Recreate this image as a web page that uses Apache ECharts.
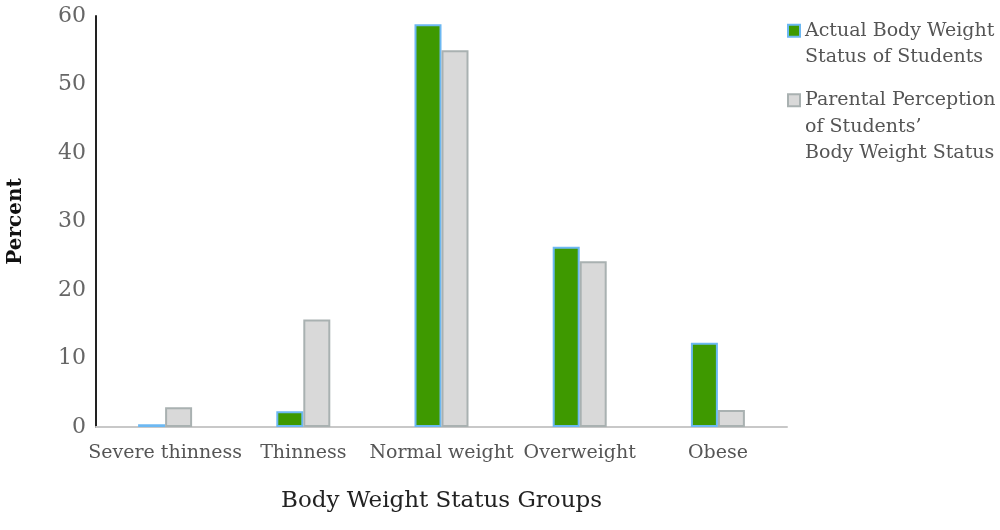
<!DOCTYPE html>
<html>
<head>
<meta charset="utf-8">
<script src="https://cdn.jsdelivr.net/npm/echarts@6/dist/echarts.min.js"></script>
<style>
  html, body { margin: 0; padding: 0; background: #fff; }
  #main { width: 1000px; height: 530px; }
</style>
</head>
<body>
<div id="main"></div>
<script>
var groups = ['Severe thinness', 'Thinness', 'Normal weight', 'Overweight', 'Obese'];
var actualStatus = [0.4, 2.3, 58.8, 26.3, 12.3];
var parentalPerception = [2.9, 15.7, 55.0, 24.2, 2.5];
var yTicks = [0, 10, 20, 30, 40, 50, 60];

var nameActual = 'Actual Body Weight\nStatus of Students';
var nameParental = 'Parental Perception\nof Students\u2019\nBody Weight Status';

var fontName = 'DejaVu Serif';
var lineH = 26.5;

// legend text is centred on the icon, so pad with blank lines on top
// to bring the first line level with the icon
function legendLabel(name) {
    var n = name.split('\n').length;
    var pad = '';
    for (var i = 1; i < n; i++) pad += ' \n';
    return pad + name;
}

var legendBase = {
    orient: 'vertical',
    left: 782,
    icon: 'rect',
    itemWidth: 12,
    itemHeight: 12,
    formatter: legendLabel,
    textStyle: { fontFamily: fontName, fontSize: 19, color: '#555', lineHeight: lineH }
};

var myChart = echarts.init(document.getElementById('main'));
var option = {
    backgroundColor: '#fff',
    animation: false,
    grid: { left: 96, right: 213, top: 16, bottom: 103, outerBoundsMode: 'none' },
    legend: [
        Object.assign({}, legendBase, { top: -14, data: [nameActual] }),
        Object.assign({}, legendBase, { top: 29, data: [nameParental] })
    ],
    xAxis: {
        type: 'category',
        data: groups,
        name: 'Body Weight Status Groups',
        nameLocation: 'middle',
        nameGap: 63,
        nameTextStyle: { fontFamily: fontName, fontSize: 23, color: '#222' },
        axisLine: { lineStyle: { color: '#c8c8c8', width: 2 } },
        axisTick: { show: false },
        axisLabel: { interval: 0, fontFamily: fontName, fontSize: 19, color: '#555', margin: 17 }
    },
    yAxis: {
        type: 'value',
        min: yTicks[0],
        max: yTicks[yTicks.length - 1],
        interval: 10,
        name: 'Percent',
        nameLocation: 'middle',
        nameGap: 70,
        nameTextStyle: { fontFamily: fontName, fontSize: 20, color: '#111', fontWeight: 'bold' },
        axisLine: { show: true, lineStyle: { color: '#222', width: 2 } },
        axisTick: { show: false },
        splitLine: { show: false },
        axisLabel: { fontFamily: fontName, fontSize: 22, color: '#666', margin: 10 }
    },
    series: [
        {
            name: nameActual,
            type: 'bar',
            data: actualStatus,
            barWidth: 27,
            barGap: '0%',
            itemStyle: { color: '#3e9900', borderColor: '#6cb8f2', borderWidth: 2 }
        },
        {
            name: nameParental,
            type: 'bar',
            data: parentalPerception,
            barWidth: 27,
            itemStyle: { color: '#d9d9d9', borderColor: '#a9b1b1', borderWidth: 2 }
        }
    ]
};
myChart.setOption(option);
</script>
</body>
</html>
